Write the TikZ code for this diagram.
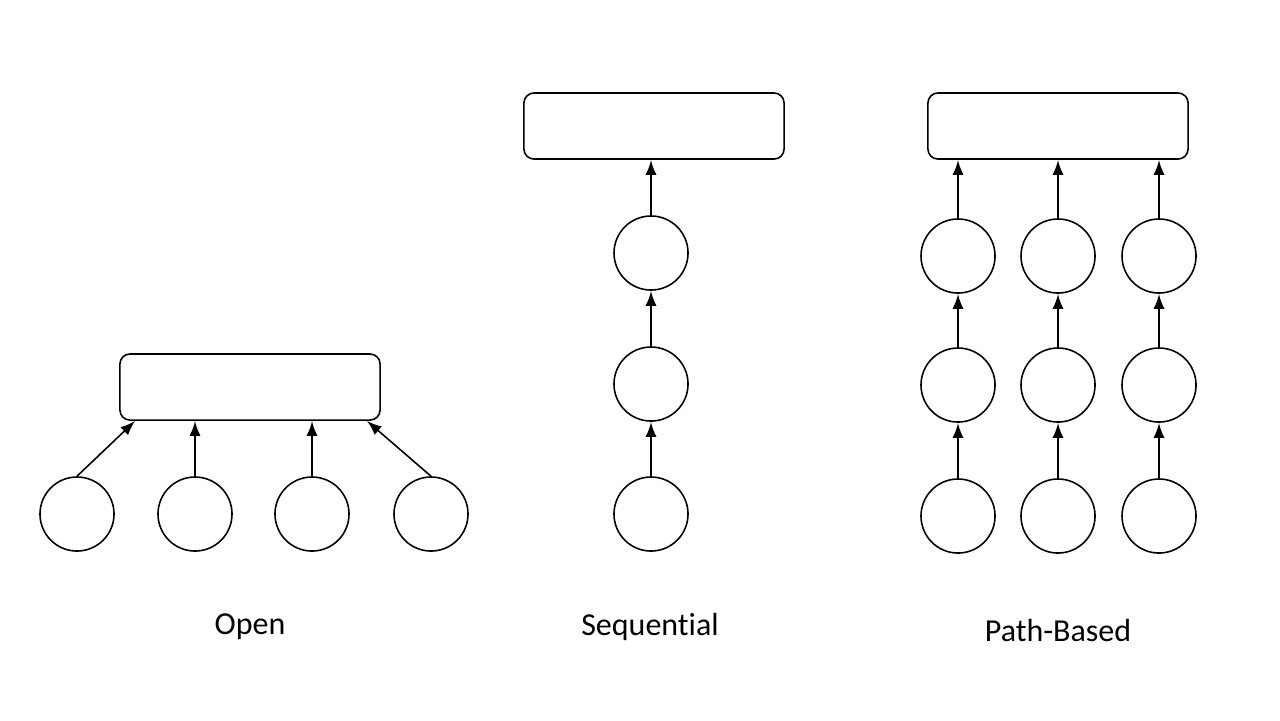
\documentclass[tikz,border=0pt]{standalone}
\usepackage{fontspec}
\setmainfont[Ligatures=NoCommon]{Carlito}
\usetikzlibrary{arrows, positioning}

\begin{document}
\begin{tikzpicture}[x=0.01cm, y=-0.01cm,
                    unit/.style = {draw, circle, minimum size=0.74cm, inner sep=0pt, line width=0.45pt},
                    layer/.style = {draw, rounded corners=0.1cm, minimum width=2.6cm, minimum height=0.66cm, line width=0.45pt},
                    caption/.style = {font=\fontsize{9.1pt}{11pt}\selectfont}]
                    \useasboundingbox (0,0) rectangle (1280,720);

                    % Open
                    \node (open) [layer] at (250,387) {};
                    \node (o1) [unit] at (77,514) {};
                    \node (o2) [unit] at (195,514) {};
                    \node (o3) [unit] at (312,514) {};
                    \node (o4) [unit] at (431,514) {};
                    \node (openlabel) [caption] at (250,627) {Open};

                    % Sequential
                    \node (seq) [layer] at (654,126) {};
                    \node (s1) [unit] at (651,514) {};
                    \node (s2) [unit] at (651,384) {};
                    \node (s3) [unit] at (651,253) {};
                    \node (seqlabel) [caption] at (650,627) {Sequential};

                    % Path-Based
                    \node (path) [layer] at (1058,126) {};
                    \node (p11) [unit] at (958,516) {};
                    \node (p12) [unit] at (958,385) {};
                    \node (p13) [unit] at (958,256) {};
                    \node (p21) [unit] at (1058,516) {};
                    \node (p22) [unit] at (1058,385) {};
                    \node (p23) [unit] at (1058,256) {};
                    \node (p31) [unit] at (1159,516) {};
                    \node (p32) [unit] at (1159,385) {};
                    \node (p33) [unit] at (1159,256) {};
                    \node (pathlabel) [caption] at (1058,630) {Path-Based};

                    \path [-latex, line width=0.45pt, shorten >=0.1pt]
                        (o1.north) edge ([xshift=0.16cm]open.south west)
                        (o2.north) edge (o2.north |- open.south)
                        (o3.north) edge (o3.north |- open.south)
                        (o4.north) edge ([xshift=-0.14cm]open.south east)
                        (s1) edge (s2)
                        (s2) edge (s3)
                        (s3.north) edge (s3.north |- seq.south)
                        (p11) edge (p12)
                        (p12) edge (p13)
                        (p13.north) edge (p13.north |- path.south)
                        (p21) edge (p22)
                        (p22) edge (p23)
                        (p23.north) edge (p23.north |- path.south)
                        (p31) edge (p32)
                        (p32) edge (p33)
                        (p33.north) edge (p33.north |- path.south);
                \end{tikzpicture}
\end{document}
